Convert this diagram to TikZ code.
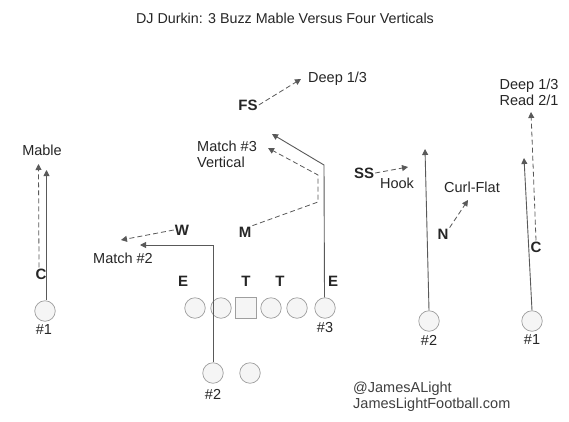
\documentclass[tikz,border=0pt]{standalone}
\usepackage{fontspec}
\setmainfont{Liberation Sans}
\usetikzlibrary{arrows.meta}
\begin{document}
\begin{tikzpicture}[x=1pt,y=-1pt,
  player/.style={circle,draw=gray!75,fill=gray!8,line width=0.7pt,minimum size=20.5pt,inner sep=0pt},
  center/.style={rectangle,draw=gray!75,fill=gray!8,line width=0.7pt,minimum size=20.5pt,inner sep=0pt},
  lbl/.style={font=\fontsize{14.5}{16}\selectfont,text=black!85,inner sep=1pt},
  def/.style={font=\bfseries\fontsize{15}{16}\selectfont,text=black!85,inner sep=1pt},
  route/.style={draw=black!65,line width=0.9pt,-{Triangle[length=6pt,width=6pt]}},
  zone/.style={draw=black!65,line width=0.8pt,dash pattern=on 5pt off 3pt,-{Triangle[length=6pt,width=6pt]}}]
\useasboundingbox[fill=white] (0,0) rectangle (569,421);
% title
\node[lbl,font=\fontsize{14.3}{16}\selectfont] (title) at (285,18) {DJ Durkin: 3 Buzz Mable Versus Four Verticals};
% offense
\node[player] (lr1) at (45,311) {};
\node[player] (ol1) at (195,308) {};
\node[player] (ol2) at (221,308) {};
\node[center] (oc) at (246,308) {};
\node[player] (ol4) at (271,308) {};
\node[player] (ol5) at (297,308) {};
\node[player] (te) at (325,308) {};
\node[player] (rb2) at (213,373) {};
\node[player] (qb) at (250,373) {};
\node[player] (rr2) at (429,321) {};
\node[player] (rr1) at (532,321) {};
% offense labels
\node[lbl] (n1l) at (44,330) {\#1};
\node[lbl] (n3) at (325,327) {\#3};
\node[lbl] (n2b) at (213,394) {\#2};
\node[lbl] (n2r) at (429,340) {\#2};
\node[lbl] (n1r) at (532,340) {\#1};
% defense
\node[def] (cl) at (41,274) {C};
\node[def] (w) at (182,230) {W};
\node[def] (m) at (245,232) {M};
\node[def] (fs) at (248,105) {FS};
\node[def] (ss) at (364,173) {SS};
\node[def] (n) at (443,234) {N};
\node[def] (cr) at (536,247) {C};
\node[def] (e1) at (183,281) {E};
\node[def] (t1) at (246,281) {T};
\node[def] (t2) at (280,281) {T};
\node[def] (e2) at (333,281) {E};
% text labels
\node[lbl] (mable) at (42,150) {Mable};
\node[lbl] (m2) at (123,258) {Match \#2};
\node[lbl,align=left,anchor=west] (m3) at (196,154) {Match \#3\\Vertical};
\node[lbl,anchor=west] (deep1) at (307,79) {Deep 1/3};
\node[lbl] (hook) at (397,183) {Hook};
\node[lbl] (cf) at (472,187) {Curl-Flat};
\node[lbl,align=center] (deep2) at (529,92) {Deep 1/3\\Read 2/1};
\node[lbl,align=left,anchor=west,text=black!75] (credit) at (352,397) {@JamesALight\\JamesLightFootball.com};
% coordinates
\coordinate (lr1t) at (46.5,170);
\coordinate (clt) at (38.5,164);
\coordinate (wt) at (121,240);
\coordinate (rb2c) at (213,245);
\coordinate (rb2t) at (140,245);
\coordinate (tec) at (324,165);
\coordinate (tet) at (272,134);
\coordinate (mc1) at (318,202);
\coordinate (mc2) at (318,175);
\coordinate (mt) at (268,148);
\coordinate (fst) at (301,79);
\coordinate (sst) at (408,167);
\coordinate (nt) at (468,200);
\coordinate (rr2t) at (425,149);
\coordinate (rr1t) at (524,158);
\coordinate (crt) at (531,112);
% routes
\draw[route] (lr1.north) ++(1.5,0) -- (lr1t);
\draw[route] (rb2.north) -- (rb2c) -- (rb2t);
\draw[route] (te.north) ++(-0.5,0) -- (tec) -- (tet);
\draw[route] (rr2.north) -- (rr2t);
\draw[route] (rr1.north) -- (rr1t);
% zones
\draw[zone] (cl.north) ++(-2,0) -- (clt);
\draw[zone] (w.west) -- (wt);
\draw[zone] (m.north east) -- (mc1) -- (mc2) -- (mt);
\draw[zone] (fs.east) -- (fst);
\draw[zone] (ss.east) -- (sst);
\draw[zone] (n.north east) -- (nt);
\draw[zone] (cr.north) -- (crt);
\end{tikzpicture}
\end{document}
